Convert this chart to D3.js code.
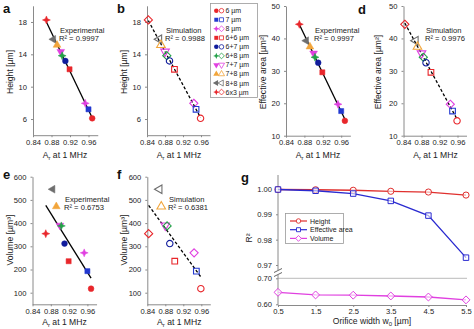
<!DOCTYPE html>
<html>
<head>
<meta charset="utf-8">
<script src="https://cdn.jsdelivr.net/npm/d3@7"></script>
<style>
  body { margin: 0; background: #fff; }
  svg { font-family: Arial, "Liberation Sans", sans-serif; }
</style>
</head>
<body>
<svg id="fig" width="474" height="329"></svg>
<script>
// sample geometries, in legend order
const groups = ['6 µm', '7 µm', '8 µm', '6+6 µm', '6+7 µm', '6+8 µm', '7+7 µm', '7+8 µm', '8+8 µm', '6x3 µm'];
const groupColors = ['#e8262b', '#2238d0', '#e040e0', '#e8262b', '#101c9c', '#23a048', '#e040e0', '#f2a53a', '#6e6e6e', '#e8262b'];
const groupShapes = ['circle', 'square', 'star4', 'square', 'circle', 'star4', 'triDown', 'triUp', 'triLeft', 'star4'];

// relative amplitude A_r at 1 MHz
const arExp = [0.968, 0.960, 0.953, 0.919, 0.910, 0.903, 0.900, 0.892, 0.884, 0.869];
const arSim = [0.959, 0.949, 0.944, 0.901, 0.890, 0.884, 0.880, 0.871, 0.867, 0.843];

// particle geometry per group
const heightVals = [6.09, 7.2, 7.94, 12.15, 13.18, 13.83, 14.33, 15.15, 15.86, 18.25];
const areaVals = [14.6, 17.6, 19.7, 29.55, 32.5, 34.2, 35.4, 37.45, 39.3, 44.36];
const volumeVals = [117.4, 192.9, 271.7, 235.7, 311.6, 388, 390, 471.5, 546, 354.4];

const arTicks = [0.84, 0.88, 0.92, 0.96];
const heightTicks = [6, 10, 14, 18];
const areaTicks = [10, 20, 30, 40, 50];
const volumeTicks = [100, 200, 300, 400, 500, 600];

// R^2 versus orifice width
const orificeWidths = [0.5, 1.5, 2.5, 3.5, 4.5, 5.5];
const r2Height = [0.9998, 0.9997, 0.9995, 0.9991, 0.9988, 0.9976];
const r2Area = [0.9998, 0.9993, 0.9982, 0.9953, 0.9895, 0.9729];
const r2Volume = [0.646, 0.636, 0.635, 0.632, 0.628, 0.617];
const r2UpperTicks = [0.97, 0.98, 0.99, 1.00];
const r2LowerTicks = [0.60, 0.70];

const svg = d3.select('#fig');
const axisColor = '#8a8a8a';
const textColor = '#222';

// custom marker shapes
function triangle(angle) {
  return {
    draw(ctx, size) {
      const r = Math.sqrt(size / 1.299);
      for (let i = 0; i < 3; i++) {
        const a = angle + i * 2 * Math.PI / 3;
        const px = r * Math.sin(a), py = -r * Math.cos(a);
        i === 0 ? ctx.moveTo(px, py) : ctx.lineTo(px, py);
      }
      ctx.closePath();
    }
  };
}
const star4 = {
  draw(ctx, size) {
    const R = Math.sqrt(size) * 0.78, r = R * 0.42;
    for (let i = 0; i < 8; i++) {
      const a = i * Math.PI / 4;
      const rad = i % 2 === 0 ? R : r;
      const px = rad * Math.sin(a), py = -rad * Math.cos(a);
      i === 0 ? ctx.moveTo(px, py) : ctx.lineTo(px, py);
    }
    ctx.closePath();
  }
};
const diamondOpen = {
  draw(ctx, size) {
    const R = Math.sqrt(size) * 0.72;
    ctx.moveTo(0, -R); ctx.lineTo(R, 0); ctx.lineTo(0, R); ctx.lineTo(-R, 0); ctx.closePath();
  }
};
const shapeTypes = {
  circle: d3.symbolCircle,
  square: d3.symbolSquare,
  star4: star4,
  triUp: triangle(0),
  triDown: triangle(Math.PI),
  triLeft: triangle(-Math.PI / 2)
};
function symbolPath(shape, size, open) {
  let t = shapeTypes[shape];
  if (open && shape === 'star4') t = diamondOpen;
  return d3.symbol().type(t).size(size)();
}

function styleAxis(sel) {
  sel.select('.domain').attr('stroke', axisColor).attr('stroke-width', 1);
  sel.selectAll('.tick line').attr('stroke', axisColor);
  sel.selectAll('.tick text').attr('fill', textColor).attr('font-size', 7.6);
}

function linearFit(xs, ys) {
  const mx = d3.mean(xs), my = d3.mean(ys);
  let sxy = 0, sxx = 0;
  xs.forEach((v, i) => { sxy += (v - mx) * (ys[i] - my); sxx += (v - mx) * (v - mx); });
  const slope = sxy / sxx;
  return v => my + slope * (v - mx);
}

function panelLabel(txt, x, y) {
  svg.append('text').attr('x', x).attr('y', y).attr('font-size', 13)
    .attr('font-weight', 'bold').attr('fill', '#111').text(txt);
}

function arTitle(cx, cy) {
  const t = svg.append('text').attr('x', cx).attr('y', cy).attr('text-anchor', 'middle')
    .attr('font-size', 8.6).attr('fill', textColor);
  t.append('tspan').text('A');
  t.append('tspan').attr('font-size', 6).attr('dy', 1.8).text('r');
  t.append('tspan').attr('dy', -1.8).text(' at 1 MHz');
}

function yTitle(txt, cx, cy) {
  svg.append('text').attr('transform', `translate(${cx},${cy}) rotate(-90)`)
    .attr('text-anchor', 'middle').attr('font-size', 8.6).attr('fill', textColor).text(txt);
}

function scatterPanel(cfg) {
  const g = svg.append('g');
  const x = d3.scaleLinear().domain([0.84, cfg.xMax])
    .range([cfg.left, cfg.left + (cfg.xMax - 0.84) / 0.04 * cfg.step]);
  const y = d3.scaleLinear().domain(cfg.yDomain).range(cfg.yRange);

  g.append('g').attr('transform', `translate(0,${cfg.yRange[0]})`)
    .call(d3.axisBottom(x).tickValues(arTicks).tickFormat(d3.format('.2f')).tickSize(2).tickSizeOuter(0).tickPadding(2))
    .call(styleAxis);
  g.append('g').attr('transform', `translate(${cfg.left},0)`)
    .call(d3.axisLeft(y).tickValues(cfg.yTicks).tickSize(2).tickSizeOuter(0).tickPadding(4))
    .call(styleAxis);

  // regression line over the data range
  const fit = linearFit(cfg.xs, cfg.ys);
  const [lo, hi] = d3.extent(cfg.xs);
  g.append('line')
    .attr('x1', x(lo)).attr('y1', y(fit(lo)))
    .attr('x2', x(hi)).attr('y2', y(fit(hi)))
    .attr('stroke', '#000').attr('stroke-width', 1.3)
    .attr('stroke-dasharray', cfg.open ? '3,2' : null);

  const idx = d3.range(groups.length).reverse();
  g.selectAll('path.pt').data(idx).join('path')
    .attr('class', 'pt')
    .attr('transform', i => `translate(${x(cfg.xs[i])},${y(cfg.ys[i])})`)
    .attr('d', i => symbolPath(groupShapes[i], cfg.open ? 32 : 26, cfg.open))
    .attr('fill', i => cfg.open ? 'none' : groupColors[i])
    .attr('stroke', i => groupColors[i])
    .attr('stroke-width', cfg.open ? 1.1 : 0.5);

  const note = g.append('g').attr('font-size', 7.6).attr('fill', textColor);
  note.append('text').attr('x', cfg.note[0]).attr('y', cfg.note[1]).text(cfg.open ? 'Simulation' : 'Experimental');
  note.append('text').attr('x', cfg.note[0] - 1).attr('y', cfg.note[1] + 8).text(`R² = ${cfg.r2}`);

  panelLabel(cfg.letter, cfg.letterPos[0], cfg.letterPos[1]);
  yTitle(cfg.yTitle, cfg.yTitlePos[0], cfg.yTitlePos[1]);
  arTitle(cfg.left + 32, cfg.titleY);
}

const topY = [135.2, 5.8];
scatterPanel({ letter: 'a', letterPos: [3, 13], left: 33, step: 18.5, xMax: 0.98,
  yDomain: [4, 20], yRange: topY, yTicks: heightTicks, xs: arExp, ys: heightVals, titleY: 158,
  open: false, r2: '0.9997', note: [60, 33], yTitle: 'Height [µm]', yTitlePos: [13, 72] });
scatterPanel({ letter: 'b', letterPos: [117, 13], left: 147, step: 18, xMax: 0.98,
  yDomain: [4, 20], yRange: topY, yTicks: heightTicks, xs: arSim, ys: heightVals, titleY: 158,
  open: true, r2: '0.9988', note: [166, 33], yTitle: 'Height [µm]', yTitlePos: [127, 72] });
scatterPanel({ letter: 'c', letterPos: [243, 15], left: 286, step: 18.4, xMax: 0.98,
  yDomain: [10, 50], yRange: [135.7, 6], yTicks: areaTicks, xs: arExp, ys: areaVals, titleY: 158,
  open: false, r2: '0.9997', note: [315, 33], yTitle: 'Effective area [µm²]', yTitlePos: [266, 72] });
scatterPanel({ letter: 'd', letterPos: [358, 14], left: 403.5, step: 18, xMax: 0.98,
  yDomain: [10, 50], yRange: [135.7, 6], yTicks: areaTicks, xs: arSim, ys: areaVals, titleY: 158,
  open: true, r2: '0.9976', note: [426, 33], yTitle: 'Effective area [µm²]', yTitlePos: [381, 72] });
scatterPanel({ letter: 'e', letterPos: [3, 179], left: 32.5, step: 18.3, xMax: 0.98,
  yDomain: [50, 600], yRange: [304.3, 176.7], yTicks: volumeTicks, xs: arExp, ys: volumeVals, titleY: 325,
  open: false, r2: '0.6753', note: [65, 202], yTitle: 'Volume [µm³]', yTitlePos: [13, 240] });
scatterPanel({ letter: 'f', letterPos: [117, 179], left: 147.3, step: 18, xMax: 0.98,
  yDomain: [50, 600], yRange: [304.3, 176.7], yTicks: volumeTicks, xs: arSim, ys: volumeVals, titleY: 325,
  open: true, r2: '0.6381', note: [169, 202], yTitle: 'Volume [µm³]', yTitlePos: [127, 240] });

// legend for the scatter panels
const leg = svg.append('g');
leg.append('rect').attr('x', 210.5).attr('y', 3.5).attr('width', 47).attr('height', 94)
  .attr('fill', '#fff').attr('stroke', '#999').attr('stroke-width', 0.8);
groups.forEach((name, i) => {
  const ry = 10.7 + i * 9.04;
  leg.append('path').attr('transform', `translate(216.3,${ry})`)
    .attr('d', symbolPath(groupShapes[i], 16, false)).attr('fill', groupColors[i]);
  leg.append('path').attr('transform', `translate(221.5,${ry})`)
    .attr('d', symbolPath(groupShapes[i], 16, true)).attr('fill', 'none')
    .attr('stroke', groupColors[i]).attr('stroke-width', 0.8);
  leg.append('text').attr('x', 225.5).attr('y', ry + 2.5).attr('font-size', 7)
    .attr('fill', textColor).text(name);
});

// panel g: R^2 against orifice width with a broken y axis
(function () {
  const g = svg.append('g');
  const x = d3.scaleLinear().domain([0.5, 5.5]).range([278, 466]);
  const yUp = d3.scaleLinear().domain([0.97, 1.0]).range([265, 189]);
  const yLow = d3.scaleLinear().domain([0.6, 0.7]).range([304.3, 278.3]);

  g.append('line').attr('x1', 278).attr('x2', 467).attr('y1', yLow(0.7)).attr('y2', yLow(0.7))
    .attr('stroke', '#bbb').attr('stroke-width', 1);

  g.append('g').attr('transform', 'translate(0,305)')
    .call(d3.axisBottom(x).tickValues(orificeWidths).tickFormat(d3.format('.1f')).tickSize(2).tickSizeOuter(0).tickPadding(2))
    .call(styleAxis);
  const up = g.append('g').attr('transform', 'translate(278,0)')
    .call(d3.axisLeft(d3.scaleLinear().domain([0.97, 1.0055]).range([265, 175]))
      .tickValues(r2UpperTicks).tickFormat(d3.format('.2f')).tickSize(2).tickSizeOuter(0).tickPadding(4))
    .call(styleAxis);
  up.select('.domain').attr('d', 'M0,175V270');
  g.append('g').attr('transform', 'translate(278,0)')
    .call(d3.axisLeft(yLow).tickValues(r2LowerTicks).tickFormat(d3.format('.2f')).tickSize(2).tickSizeOuter(0).tickPadding(4))
    .call(styleAxis)
    .select('.domain').attr('d', 'M0,275V305');
  // break marks
  [270.5, 274.5].forEach(by => {
    g.append('line').attr('x1', 274).attr('x2', 282).attr('y1', by + 2).attr('y2', by - 2)
      .attr('stroke', '#555').attr('stroke-width', 0.9);
  });

  const series = [
    { name: 'Height', vals: r2Height, y: yUp, color: '#e0302e', shape: d3.symbolCircle },
    { name: 'Effective area', vals: r2Area, y: yUp, color: '#2a2ad0', shape: d3.symbolSquare },
    { name: 'Volume', vals: r2Volume, y: yLow, color: '#e040e0', shape: diamondOpen }
  ];
  series.forEach(s => {
    g.append('path')
      .attr('d', d3.line().x((d, i) => x(orificeWidths[i])).y(d => s.y(d))(s.vals))
      .attr('fill', 'none').attr('stroke', s.color).attr('stroke-width', 1.3);
    g.selectAll(null).data(s.vals).join('path')
      .attr('transform', (d, i) => `translate(${x(orificeWidths[i])},${s.y(d)})`)
      .attr('d', d3.symbol().type(s.shape).size(30)())
      .attr('fill', '#fff').attr('fill-opacity', 0.6).attr('stroke', s.color).attr('stroke-width', 1);
  });

  const lg = g.append('g');
  lg.append('rect').attr('x', 285.5).attr('y', 213.5).attr('width', 58).attr('height', 30)
    .attr('fill', '#fff').attr('stroke', '#999').attr('stroke-width', 0.8);
  series.forEach((s, i) => {
    const ry = 221 + i * 8.7;
    lg.append('line').attr('x1', 290).attr('x2', 307).attr('y1', ry).attr('y2', ry)
      .attr('stroke', s.color).attr('stroke-width', 1.2);
    lg.append('path').attr('transform', `translate(298.5,${ry})`)
      .attr('d', d3.symbol().type(s.shape).size(16)())
      .attr('fill', '#fff').attr('stroke', s.color).attr('stroke-width', 0.9);
    lg.append('text').attr('x', 310).attr('y', ry + 2.5).attr('font-size', 7)
      .attr('fill', textColor).text(s.name);
  });

  panelLabel('g', 241, 182);
  const yt = svg.append('text').attr('transform', 'translate(252,238) rotate(-90)')
    .attr('text-anchor', 'middle').attr('font-size', 8.6).attr('fill', textColor);
  yt.text('R²');
  const xt = svg.append('text').attr('x', 372).attr('y', 324).attr('text-anchor', 'middle')
    .attr('font-size', 8.6).attr('fill', textColor);
  xt.append('tspan').text('Orifice width w');
  xt.append('tspan').attr('font-size', 6).attr('dy', 1.8).text('0');
  xt.append('tspan').attr('dy', -1.8).text(' [µm]');
})();
</script>
</body>
</html>
